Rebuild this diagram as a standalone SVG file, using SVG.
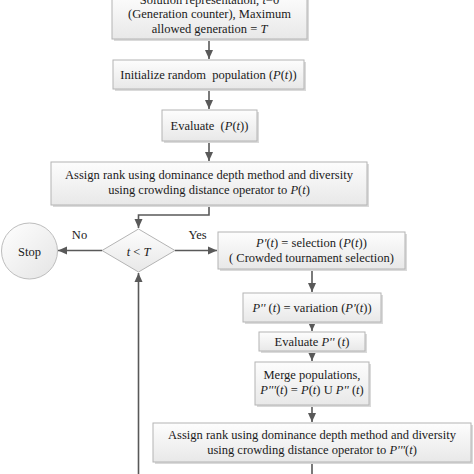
<svg xmlns="http://www.w3.org/2000/svg" width="474" height="474" viewBox="0 0 474 474">
<defs>
<linearGradient id="g" x1="0" y1="0" x2="0" y2="1">
<stop offset="0" stop-color="#fdfdfd"/>
<stop offset="1" stop-color="#e8e8e8"/>
</linearGradient>
<linearGradient id="gc" x1="0" y1="0" x2="1" y2="1">
<stop offset="0" stop-color="#ffffff"/>
<stop offset="1" stop-color="#e4e4e4"/>
</linearGradient>
<marker id="ah" markerUnits="userSpaceOnUse" markerWidth="10" markerHeight="10" viewBox="0 0 10 10" refX="9" refY="5" orient="auto">
<path d="M0,1 L9,5 L0,9 Z" fill="#595959"/>
</marker>
</defs>
<style>
.box{fill:url(#g);stroke:#b4b4b4;stroke-width:1}
.sh{fill:#dadada}
.t{font-family:"Liberation Serif","Times New Roman",serif;font-size:12.5px;fill:#1a1a1a;text-anchor:middle}
.i{font-style:italic}
.c{fill:none;stroke:#595959;stroke-width:1.6}
</style>
<rect width="474" height="474" fill="#ffffff"/>
<g id="connectors">
<path class="c" d="M209,39 V59" marker-end="url(#ah)"/>
<path class="c" d="M209,89 V109" marker-end="url(#ah)"/>
<path class="c" d="M209,141 V161" marker-end="url(#ah)"/>
<path class="c" d="M209,205 V215 H138.5 V228" marker-end="url(#ah)"/>
<path class="c" d="M102,250.5 H58" marker-end="url(#ah)"/>
<path class="c" d="M175,250.5 H217" marker-end="url(#ah)"/>
<path class="c" d="M312,269 V292" marker-end="url(#ah)"/>
<path class="c" d="M312,322 V331" marker-end="url(#ah)"/>
<path class="c" d="M312,351 V361" marker-end="url(#ah)"/>
<path class="c" d="M312,405 V422" marker-end="url(#ah)"/>
<path class="c" d="M312,462 V474"/>
<path class="c" d="M138.5,474 V273" marker-end="url(#ah)"/>
</g>
<g id="n1">
<rect class="sh" x="114" y="-4" width="195" height="45"/>
<rect class="box" x="112" y="-6" width="195" height="45"/>
<text class="t" x="209.5" y="3.5">Solution representation, <tspan class="i">t</tspan>=0</text>
<text class="t" x="209.5" y="18">(Generation counter), Maximum</text>
<text class="t" x="209.5" y="32.5">allowed generation = <tspan class="i">T</tspan></text>
</g>
<g id="n2">
<rect class="sh" x="115" y="62" width="191" height="29"/>
<rect class="box" x="113" y="60" width="191" height="29"/>
<text class="t" x="208.5" y="78.5" xml:space="preserve">Initialize random  population (<tspan class="i">P</tspan>(<tspan class="i">t</tspan>))</text>
</g>
<g id="n3">
<rect class="sh" x="164" y="112" width="95" height="31"/>
<rect class="box" x="162" y="110" width="95" height="31"/>
<text class="t" x="209.5" y="129.5" xml:space="preserve">Evaluate  (<tspan class="i">P</tspan>(<tspan class="i">t</tspan>))</text>
</g>
<g id="n4">
<rect class="sh" x="53" y="164" width="316" height="43"/>
<rect class="box" x="51" y="162" width="316" height="43"/>
<text class="t" x="209" y="178.5">Assign rank using dominance depth method and diversity</text>
<text class="t" x="209" y="194">using crowding distance operator to <tspan class="i">P</tspan>(<tspan class="i">t</tspan>)</text>
</g>
<g id="decision">
<path d="M102,250.5 L138.5,229 L175,250.5 L138.5,272 Z" fill="url(#g)" stroke="#b4b4b4" stroke-width="1"/>
<text class="t" x="138.5" y="255.5"><tspan class="i">t</tspan> &lt; <tspan class="i">T</tspan></text>
</g>
<g id="stop">
<circle cx="29.5" cy="251" r="28" fill="url(#gc)" stroke="#bdbdbd" stroke-width="1"/>
<text class="t" x="29.5" y="255.5">Stop</text>
</g>
<g id="labels">
<text class="t" x="79.5" y="238.5">No</text>
<text class="t" x="197.5" y="238.5">Yes</text>
</g>
<g id="n5">
<rect class="sh" x="220" y="234" width="187" height="37"/>
<rect class="box" x="218" y="232" width="187" height="37"/>
<text class="t" x="311.5" y="247"><tspan class="i">P'</tspan>(<tspan class="i">t</tspan>) = selection (<tspan class="i">P</tspan>(<tspan class="i">t</tspan>))</text>
<text class="t" x="311.5" y="262">( Crowded tournament selection)</text>
</g>
<g id="n6">
<rect class="sh" x="245" y="295" width="138" height="29"/>
<rect class="box" x="243" y="293" width="138" height="29"/>
<text class="t" x="312" y="312"><tspan class="i">P''</tspan> (<tspan class="i">t</tspan>) = variation (<tspan class="i">P'</tspan>(<tspan class="i">t</tspan>))</text>
</g>
<g id="n7">
<rect class="sh" x="261" y="334" width="106" height="19"/>
<rect class="box" x="259" y="332" width="106" height="19"/>
<text class="t" x="312" y="345.5">Evaluate <tspan class="i">P''</tspan> (<tspan class="i">t</tspan>)</text>
</g>
<g id="n8">
<rect class="sh" x="257" y="364" width="114" height="43"/>
<rect class="box" x="255" y="362" width="114" height="43"/>
<text class="t" x="312" y="379">Merge populations,</text>
<text class="t" x="312" y="393.5"><tspan class="i">P'''</tspan>(<tspan class="i">t</tspan>) = <tspan class="i">P</tspan>(<tspan class="i">t</tspan>) U <tspan class="i">P''</tspan> (<tspan class="i">t</tspan>)</text>
</g>
<g id="n9">
<rect class="sh" x="155" y="425" width="318" height="39"/>
<rect class="box" x="153" y="423" width="318" height="39"/>
<text class="t" x="312" y="438.5">Assign rank using dominance depth method and diversity</text>
<text class="t" x="312" y="453.5">using crowding distance operator to <tspan class="i">P'''</tspan>(<tspan class="i">t</tspan>)</text>
</g>
</svg>
